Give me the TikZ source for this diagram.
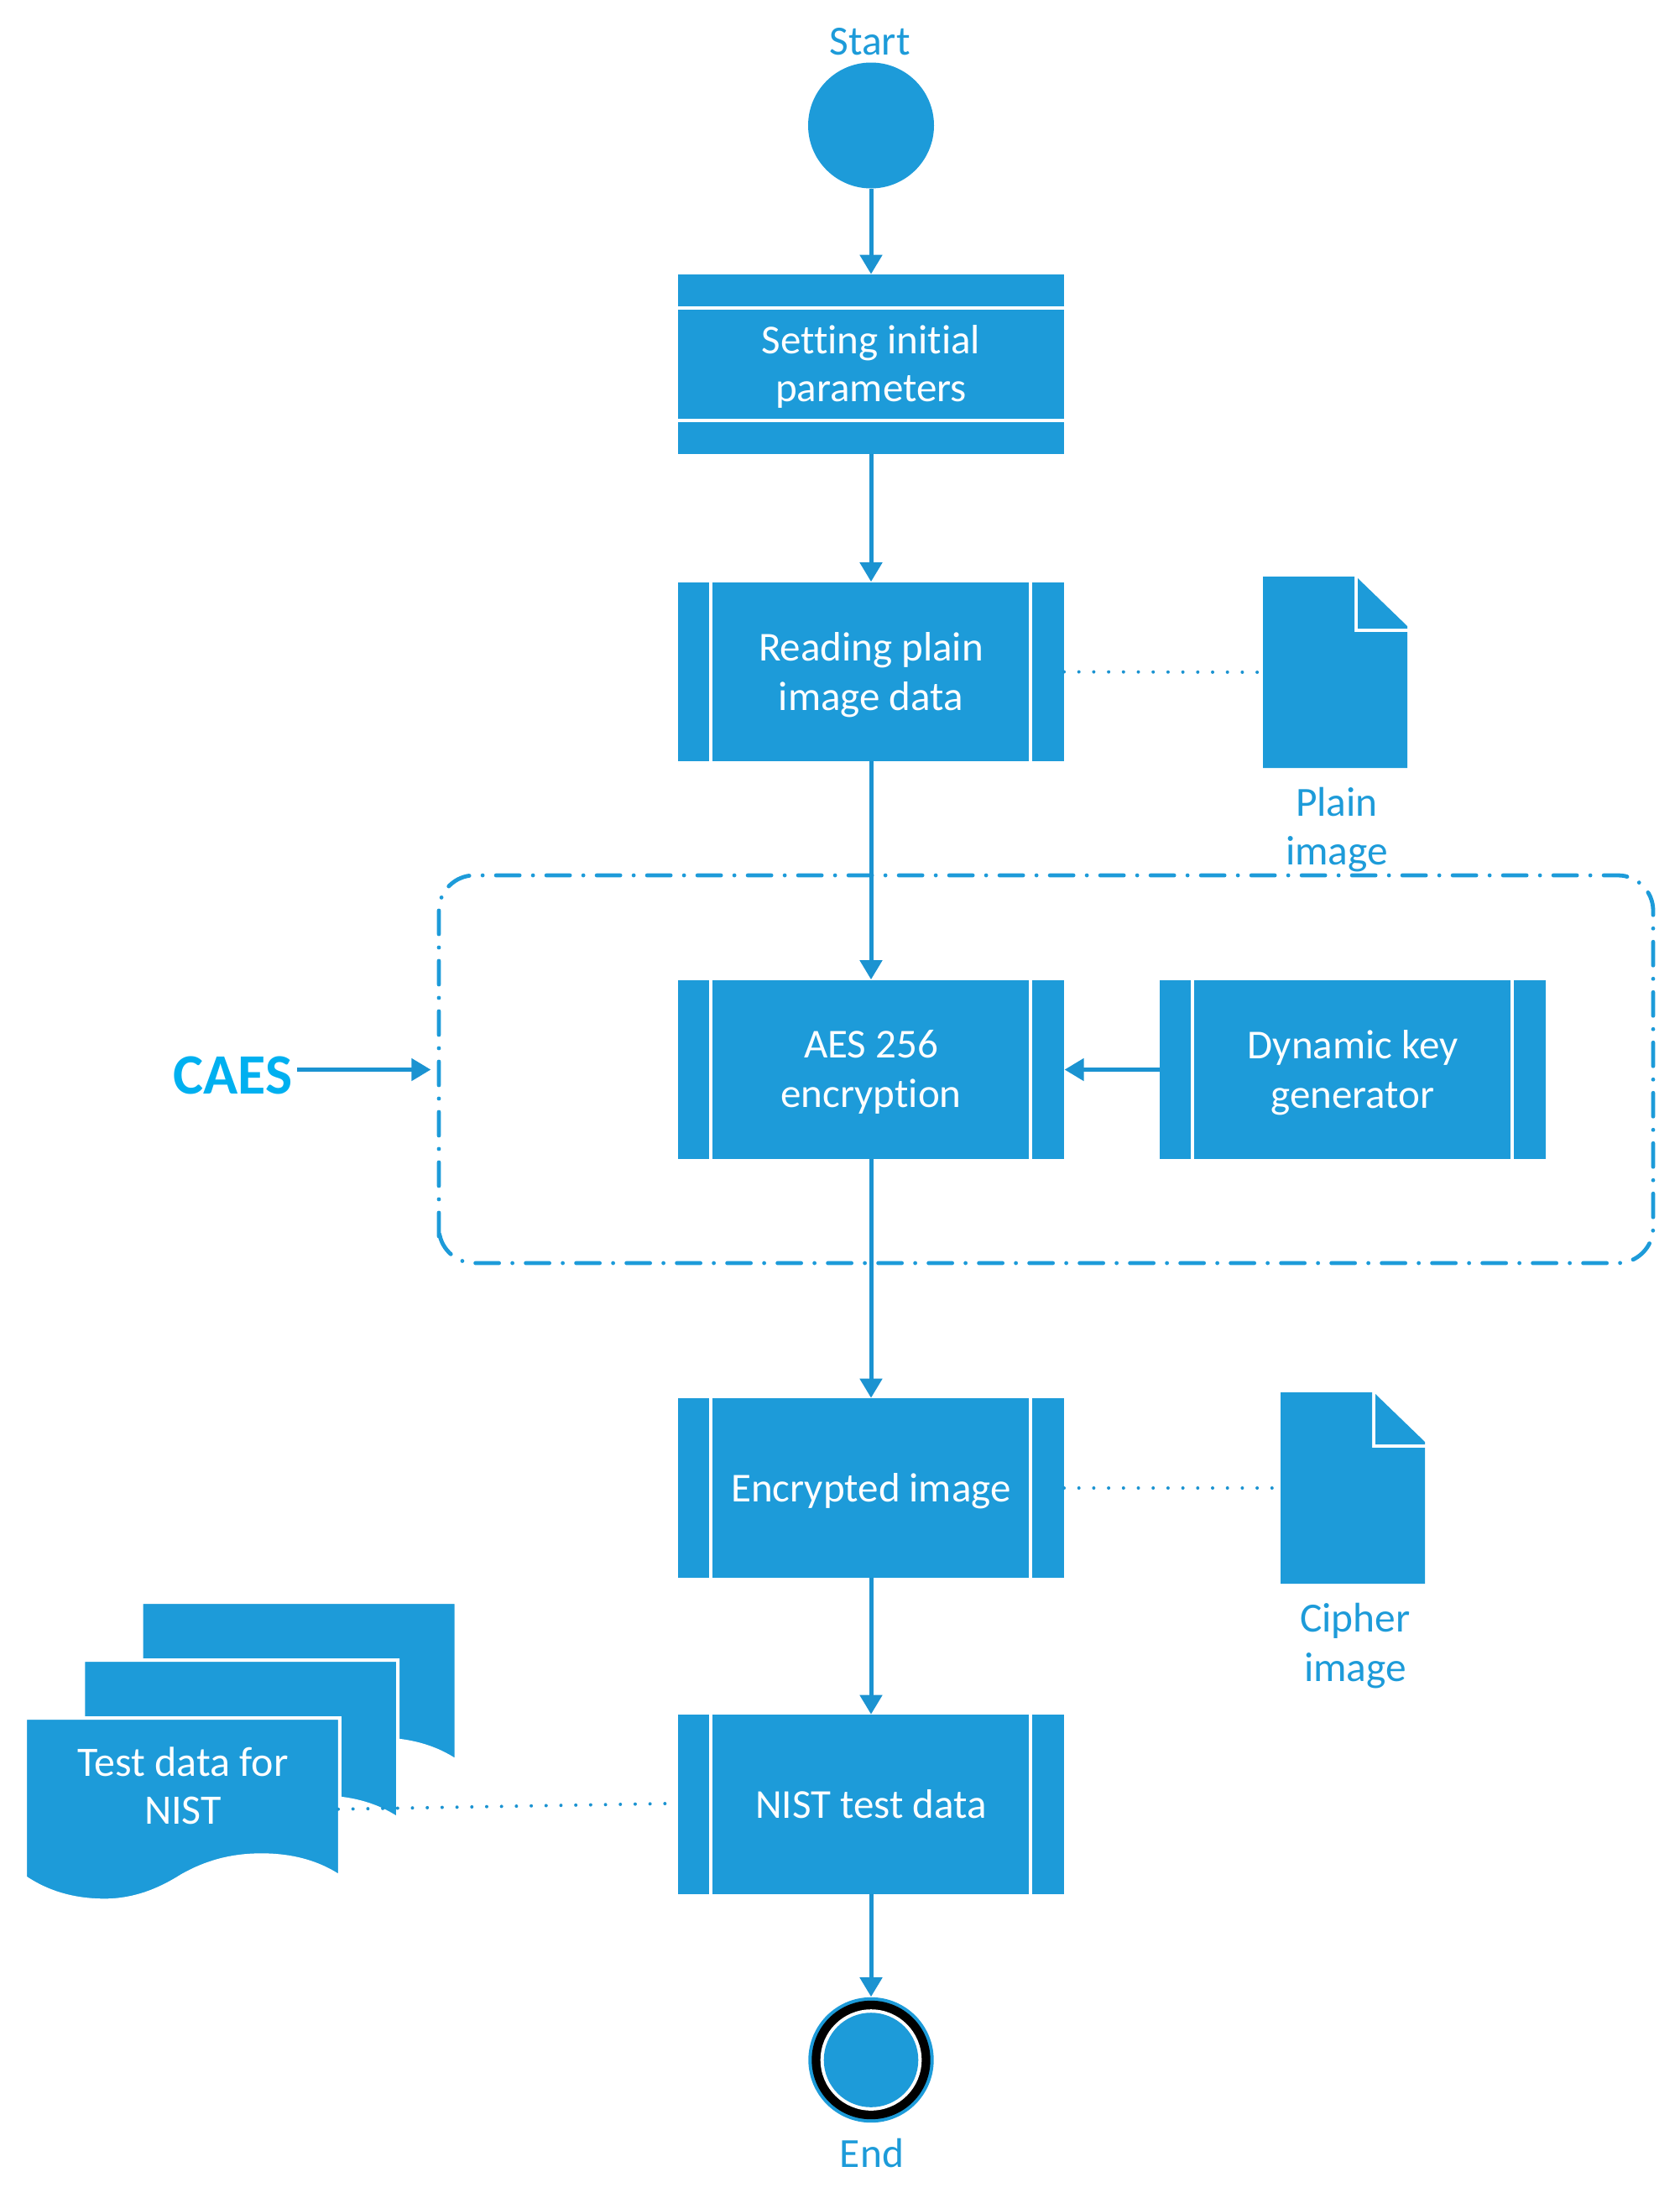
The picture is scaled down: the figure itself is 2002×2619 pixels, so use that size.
\documentclass[tikz,border=0pt]{standalone}
\usepackage{fontspec}
\setmainfont{Carlito}[Ligatures=NoCommon]
\usetikzlibrary{arrows.meta}
\definecolor{mainblue}{HTML}{1D9BD9}
\definecolor{linkblue}{HTML}{1B93D1}
\definecolor{caesblue}{HTML}{00B0F0}
\tikzset{
  x=0.5pt,y=-0.5pt,
  txt/.style={font=\fontsize{24.5}{29.5}\selectfont,align=center,inner sep=0pt},
  lab/.style={txt,font=\fontsize{24.7}{29.5}\selectfont,text=mainblue,anchor=base},
  boxbase/.style={rectangle,fill=mainblue,text=white,inner sep=0pt,outer sep=0pt,
    minimum width=230pt,minimum height=106.75pt,txt},
  lift/.style={text depth=0.8pt},
  procbox/.style={boxbase,path picture={
    \draw[white,line width=2pt] ([xshift=19.5pt]path picture bounding box.north west)--([xshift=19.5pt]path picture bounding box.south west);
    \draw[white,line width=2pt] ([xshift=-20pt]path picture bounding box.north east)--([xshift=-20pt]path picture bounding box.south east);}},
  initbox/.style={boxbase,path picture={
    \draw[white,line width=2pt] ([yshift=-20pt]path picture bounding box.north west)--([yshift=-20pt]path picture bounding box.north east);
    \draw[white,line width=2pt] ([yshift=20pt]path picture bounding box.south west)--([yshift=20pt]path picture bounding box.south east);}},
  conn/.style={draw=linkblue,line width=2.5pt,-{Triangle[length=11.5pt,width=13pt]},shorten >=0.3pt},
  dots/.style={draw=linkblue,line width=2pt,line cap=round,dash pattern=on 0pt off 8.85pt},
  region/.style={draw=mainblue,line width=2.4pt,line cap=round,dash pattern=on 14pt off 8pt on 0pt off 8pt},
  docarea/.style={rectangle,inner sep=0pt,outer sep=0pt,minimum width=86pt,minimum height=114pt},
  disc/.style={circle,inner sep=0pt,outer sep=0pt},
  doc/.pic={
    \fill[mainblue] (0,0)--(109,0)--(109,66)--(172,66)--(172,228)--(0,228)--cycle;
    \fill[mainblue] (113,2)--(172,59)--(172,62)--(113,62)--cycle;
  },
  page/.pic={
    \path[fill=mainblue,draw=white,line width=2pt] (30,2047)--(404.8,2047)--(404.8,2236)
      .. controls (378,2218) and (346,2210.3) .. (311.6,2210.3)
      .. controls (275,2210.3) and (245,2219) .. (216.8,2235)
      .. controls (190,2252) and (160,2264.3) .. (124.7,2264.3)
      .. controls (90,2264.3) and (58,2256) .. (30,2237)--cycle;
  },
}
\begin{document}
\begin{tikzpicture}
\useasboundingbox (0,0) rectangle (2002,2619);

% region outline, path kept in one sweep so the dash phase follows the outline
\path[region] (523,1473)--(523,1085)
  .. controls (523,1062) and (542,1043) .. (565,1043)
  --(1928,1043)
  .. controls (1951,1043) and (1970,1062) .. (1970,1085)
  --(1970,1463)
  .. controls (1970,1486) and (1951,1505) .. (1928,1505)
  --(565,1505)
  .. controls (542,1505) and (523,1486) .. (523,1463)--(523,1473);

% flow nodes
\node[disc,fill=mainblue,minimum size=75pt] (start) at (1038,149.5) {};
\node[lab] (startlab) at (1036.5,65) {Start};
\node[initbox,lift] (setting) at (1038,434) {Setting initial\\[-1pt]parameters};
\node[procbox,lift] (reading) at (1038,800.5) {Reading plain\\image data};
\node[procbox,lift] (aes) at (1038,1274.5) {AES 256\\encryption};
\node[procbox,lift] (dyn) at (1612,1274.5) {Dynamic key\\generator};
\node[procbox,lift] (enc) at (1038,1773) {Encrypted image};
\node[procbox] (nist) at (1038,2150) {NIST test data};

% end marker
\node[disc,fill=mainblue,minimum size=74.7pt] (end) at (1038,2454.5) {};
\node[disc,fill=black,minimum size=70.7pt] (endring) at (end.center) {};
\node[disc,fill=white,minimum size=60.3pt] (endgap) at (end.center) {};
\node[disc,fill=mainblue,minimum size=56.3pt] (endcore) at (end.center) {};
\node[lab] (endlab) at (1039,2582) {End};

% documents
\pic at (1505,687) {doc};
\node[docarea] (plaindoc) at (1591,801) {};
\node[lab] (plainlab) at (1593,972) {Plain};
\node[lab] (plainlabb) at (1593,1030) {image};
\pic at (1526,1659) {doc};
\node[docarea] (cipherdoc) at (1612,1773) {};
\node[lab] (cipherlab) at (1615,1944) {Cipher};
\node[lab] (cipherlabb) at (1615,2003) {image};

% stacked pages
\pic at (138.7,-138) {page};
\pic at (69.3,-69) {page};
\pic at (0,0) {page};
\node[lab,font=\fontsize{25}{29.5}\selectfont,text=white] (testlab) at (218,2116) {Test data for};
\node[lab,font=\fontsize{25}{29.5}\selectfont,text=white] (testlabb) at (218,2173) {NIST};
\coordinate (pageedge) at (403,2155.7);
\coordinate (nistin) at (793,2149);

% CAES
\node[font=\bfseries\fontsize{34}{38}\selectfont,text=caesblue,inner sep=0pt,inner xsep=2.5pt,anchor=base] (caes) at (277.7,1303) {CAES};
\coordinate (caestail) at (caes.east |- aes.center);
\coordinate (regionedge) at (514,1274.5);

% connectors
\draw[conn] (start.south)--(setting.north);
\draw[conn] (setting.south)--(reading.north);
\draw[conn] (reading.south)--(aes.north);
\draw[conn] (aes.south)--(enc.north);
\draw[conn] (enc.south)--(nist.north);
\draw[conn] (nist.south)--(end.north);
\draw[conn] (dyn.west)--(aes.east);
\draw[conn] (caestail)--(regionedge);
\draw[dots] (reading.east)--(plaindoc.west);
\draw[dots] (enc.east)--(cipherdoc.west);
\draw[dots] (pageedge)--(nistin);
\end{tikzpicture}
\end{document}
